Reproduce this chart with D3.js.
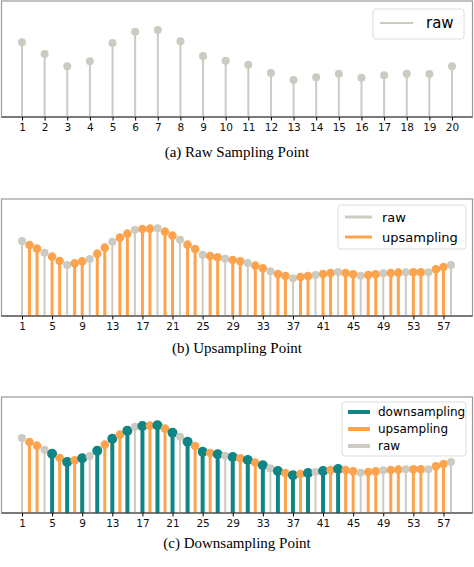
<!DOCTYPE html><html><head><meta charset="utf-8">
<script src="https://cdn.jsdelivr.net/npm/d3@7"></script>
<style>body{margin:0;background:#fff}</style></head><body>
<svg id="c" width="474" height="567"></svg>
<script>
const rawValues=[224,189,152,167,222,256,261,227,183,169,157,132,111,119,130,118,125,130,129,152];
const upValues=[225,213,202,190,178,165,153,158,164,171,187,205,223,235,247,259,261,262,263,253,241,229,214,201,184,180,176,172,168,164,159,151,143,134,126,120,113,117,120,123,126,129,132,129,125,121,123,125,128,129,130,131,131,131,131,140,147,153];
const rawTicks=d3.range(1,21);
const upTicks=d3.range(1,58,4);
const downIdx=d3.range(5,44,2);
const captions=["(a) Raw Sampling Point","(b) Upsampling Point","(c) Downsampling Point"];
const C={raw:"#cdcac2",up:"#fea34d",down:"#108585"};
const svg=d3.select("#c");
function type(i){ if((i-1)%3===0&&!downIdx.includes(i)) return "raw"; return "up";}
const panels=[
 {top:1,base:117,cap:157,n:20,ticks:rawTicks,vals:rawValues,x1:452},
 {top:199,base:316,cap:353,n:58,ticks:upTicks,vals:upValues,x1:451},
 {top:397,base:513,cap:548,n:58,ticks:upTicks,vals:upValues,x1:451}];
panels.forEach((p,pi)=>{
 const g=svg.append("g");
 const x=d3.scaleLinear().domain([1,p.n]).range([22,p.x1]);
 const y=d3.scaleLinear().domain([0,350]).range([p.base,p.base-350/3]);
 g.append("rect").attr("x",1.5).attr("y",p.top).attr("width",471).attr("height",p.base-p.top).attr("fill","none").attr("stroke","#999").attr("stroke-width",1.2);
 const pts=p.vals.map((v,i)=>({i:i+1,v,t:pi===0?"raw":pi===1?type(i+1).replace("up",(i%3===0)?"raw":"up"):(downIdx.includes(i+1)?"down":(i%3===0?"raw":"up"))}));
 const st={raw:{w:2,r:4},up:{w:3,r:4.3},down:{w:4,r:5}};
 g.selectAll("line.s").data(pts).join("line").attr("x1",d=>x(d.i)).attr("x2",d=>x(d.i)).attr("y1",y(0)).attr("y2",d=>y(d.v)).attr("stroke",d=>C[d.t]).attr("stroke-width",d=>st[d.t].w);
 g.selectAll("circle").data(pts).join("circle").attr("cx",d=>x(d.i)).attr("cy",d=>y(d.v)).attr("r",d=>st[d.t].r).attr("fill",d=>C[d.t]);
 const ax=g.append("g").attr("transform",`translate(0,${p.base})`).call(d3.axisBottom(x).tickValues(p.ticks).tickSize(3.5).tickSizeOuter(0));
 ax.select(".domain").attr("d",`M1.5,0H472.5`).attr("stroke","#333").attr("stroke-width",1.2);
 ax.selectAll("text").attr("font-family","DejaVu Sans").attr("font-size",10.5).attr("fill","#111");
 g.append("text").attr("x",237).attr("y",p.cap).attr("text-anchor","middle").attr("font-family","Liberation Serif").attr("font-size",15).text(captions[pi]);
});
function legend(x0,y0,w,h,items,lx,tx,fs,sw){
 const g=svg.append("g");
 g.append("rect").attr("x",x0).attr("y",y0).attr("width",w).attr("height",h).attr("rx",3).attr("fill","#fff").attr("stroke","#ddd");
 items.forEach(([lab,col,yy])=>{
  g.append("line").attr("x1",lx[0]).attr("x2",lx[1]).attr("y1",yy).attr("y2",yy).attr("stroke",col).attr("stroke-width",sw);
  g.append("text").attr("x",tx).attr("y",yy).attr("dy","0.35em").attr("font-family","DejaVu Sans").attr("font-size",fs).text(lab);
 });
}
legend(373,9,91,30,[["raw",C.raw,23]],[380,413],426,15,2);
legend(338,205,128,44,[["raw",C.raw,217],["upsampling",C.up,237]],[345,372],382,13,3);
legend(342,402,124,54,[["downsampling",C.down,412],["upsampling",C.up,429],["raw",C.raw,446]],[348,370],378,12,4);
</script></body></html>
